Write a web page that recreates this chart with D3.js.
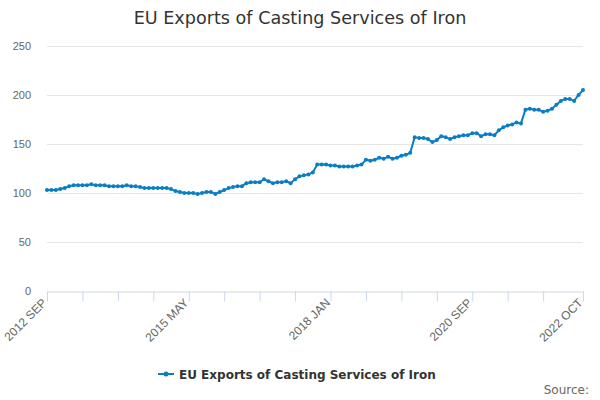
<!DOCTYPE html>
<html lang="en">

<head>
  <meta charset="utf-8">
  <title>EU Exports of Casting Services of Iron</title>
  <script src="https://d3js.org/d3.v7.min.js"></script>
  <style>
    body { margin: 0; background: #fff; }
    svg { font-family: "DejaVu Sans", sans-serif; }
    .grid line { stroke: #e6e6e6; }
    .axis text { fill: #666; font-size: 11px; }
  </style>
</head>

<body>
  <script>
    var seriesName = 'EU Exports of Casting Services of Iron';
    var startMonth = new Date(2012, 8, 1); // 2012 SEP
    // monthly values, 2012 SEP .. 2022 OCT
    var values = [
      103, 103, 103, 104, 105, 107, 108, 108, 108, 108,
      109, 108, 108, 108, 107, 107, 107, 107, 108, 107,
      107, 106, 105, 105, 105, 105, 105, 105, 104, 102,
      101, 100, 100, 100, 99, 100, 101, 101, 99, 101,
      103, 105, 106, 107, 107, 110, 111, 111, 111, 114,
      112, 110, 111, 111, 112, 110, 114, 117, 118, 119,
      121, 129, 129, 129, 128, 128, 127, 127, 127, 127,
      128, 129, 134, 133, 134, 136, 135, 137, 135, 136,
      138, 139, 141, 157, 156, 156, 155, 152, 154, 158,
      157, 155, 157, 158, 159, 159, 161, 161, 158, 160,
      160, 159, 164, 167, 169, 170, 172, 171, 185, 186,
      185, 185, 183, 184, 186, 190, 194, 196, 196, 194,
      200, 205
    ];
    var yTicks = [0, 50, 100, 150, 200, 250];
    var labelIdx = [0, 32, 64, 96, 121];
    var monthNames = ['JAN', 'FEB', 'MAR', 'APR', 'MAY', 'JUN', 'JUL', 'AUG', 'SEP', 'OCT', 'NOV', 'DEC'];

    var categories = values.map(function(v, i) {
      var d = d3.timeMonth.offset(startMonth, i);
      return d.getFullYear() + ' ' + monthNames[d.getMonth()];
    });
    var tickIdx = d3.range(0, 113, 8).concat([values.length - 1]);

    var w = 600, h = 400;
    var margin = {top: 46, right: 17, bottom: 109, left: 47};
    var innerW = w - margin.left - margin.right,
      innerH = h - margin.top - margin.bottom;

    var x = d3.scaleLinear().domain([0, values.length - 1]).range([0, innerW]);
    var y = d3.scaleLinear().domain([0, 250]).range([innerH, 0]);

    var svg = d3.select('body').append('svg')
      .attr('width', w)
      .attr('height', h);

    svg.append('text')
      .attr('x', w / 2)
      .attr('y', 24)
      .attr('text-anchor', 'middle')
      .style('font-size', '17.6px')
      .style('fill', '#333')
      .text(seriesName);

    var g = svg.append('g')
      .attr('transform', 'translate(' + [margin.left, margin.top] + ')');

    // horizontal grid
    g.append('g')
      .attr('class', 'grid')
      .selectAll('line')
      .data(yTicks.filter(function(t) { return t > 0; }))
      .enter().append('line')
      .attr('x1', 0).attr('x2', innerW)
      .attr('y1', function(d) { return y(d) + 0.5; })
      .attr('y2', function(d) { return y(d) + 0.5; });

    var yAxis = d3.axisLeft(y).tickValues(yTicks).tickSize(0).tickPadding(16);
    g.append('g')
      .attr('class', 'y axis')
      .call(yAxis)
      .call(function(s) { s.select('.domain').remove(); });

    var xAxis = d3.axisBottom(x)
      .tickValues(tickIdx)
      .tickSize(10)
      .tickSizeOuter(0)
      .tickFormat(function(i) { return labelIdx.indexOf(i) >= 0 ? categories[i] : ''; });

    var xg = g.append('g')
      .attr('class', 'x axis')
      .attr('transform', 'translate(0,' + (innerH + 0.5) + ')')
      .call(xAxis);
    xg.select('.domain').attr('stroke', '#ccd6eb');
    xg.selectAll('.tick line').attr('stroke', '#ccd6eb');
    xg.selectAll('.tick text')
      .attr('text-anchor', 'end')
      .attr('transform', 'translate(-3,9) rotate(-45)')
      .attr('dy', '0.35em')
      .attr('y', 0)
      .attr('x', 0)
      .style('font-size', '12px');

    var line = d3.line()
      .x(function(d, i) { return x(i); })
      .y(function(d) { return y(d); });

    var color = '#0a7ec5';
    g.append('path')
      .datum(values)
      .attr('fill', 'none')
      .attr('stroke', color)
      .attr('stroke-width', 2)
      .attr('d', line);

    g.selectAll('.dot')
      .data(values)
      .enter().append('circle')
      .attr('class', 'dot')
      .attr('cx', function(d, i) { return x(i); })
      .attr('cy', function(d) { return y(d); })
      .attr('r', 2)
      .attr('fill', color);

    // legend
    var legend = svg.append('g').attr('transform', 'translate(158,374)');
    legend.append('line')
      .attr('x1', 0).attr('x2', 16)
      .attr('stroke', color).attr('stroke-width', 2);
    legend.append('circle').attr('cx', 8).attr('r', 2.5).attr('fill', color);
    legend.append('text')
      .attr('x', 21)
      .attr('y', 4.5)
      .style('font-size', '12px')
      .style('font-weight', 'bold')
      .style('fill', '#333')
      .text(seriesName);

    svg.append('text')
      .attr('x', 589)
      .attr('y', 394)
      .attr('text-anchor', 'end')
      .style('font-size', '12px')
      .style('fill', '#666')
      .text('Source:');
  </script>
</body>

</html>
